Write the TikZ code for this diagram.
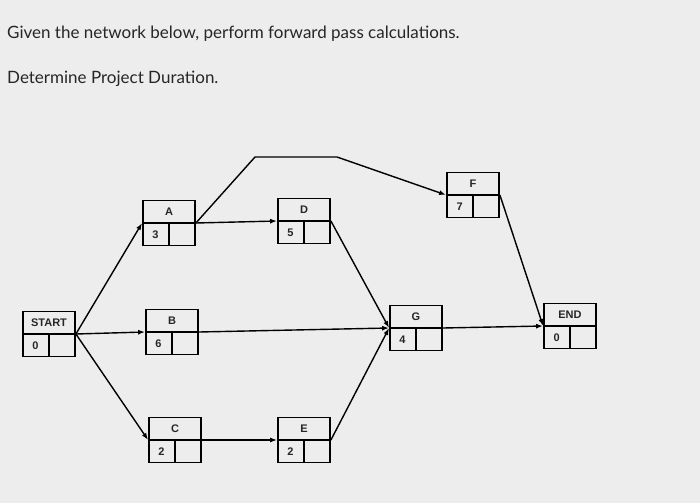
\documentclass[tikz,border=0pt]{standalone}
\usepackage{fontspec}
\setmainfont{Lato}
\newfontfamily\lblfont{Liberation Sans}
\usetikzlibrary{arrows.meta,calc}
\definecolor{bg}{HTML}{EDEDED}
\tikzset{
  act/.style={draw, line width=1.8pt, minimum width=52pt, minimum height=45pt, inner sep=0pt},
  lbl/.style={font=\lblfont\fontsize{11}{11}\selectfont\bfseries, text=black!85},
  conn/.style={line width=1.4pt, -{Latex[length=7pt,width=5pt]}},
  ttl/.style={anchor=base west, font=\fontsize{17}{17}\selectfont, text=black!85, inner sep=0pt},
}
\newcommand{\actbox}[5]{% name, cx, cy, top, bottom-left
  \node[act] (#1) at (#2,#3) {};
  \draw[line width=1.8pt] (#1.west) -- (#1.east);
  \draw[line width=1.8pt] (#1.center) -- (#1.south);
  \node[lbl] at ($(#1.north)!0.5!(#1.center)$) {#4};
  \node[lbl] at ($(#1.south west)!0.5!(#1.center)$) {#5};
}
\begin{document}
\begin{tikzpicture}[x=1pt,y=-1pt]
\fill[bg] (0,0) rectangle (700,503);
\useasboundingbox (0,0) rectangle (700,503);
\node[ttl] (t1) at (7,39) {Given the network below, perform forward pass calculations.};
\node[ttl] (t2) at (7,83) {Determine Project Duration.};
\actbox{S}{49}{334}{START}{0}
\actbox{A}{169}{223}{A}{3}
\actbox{B}{172}{332}{B}{6}
\actbox{C}{175}{440}{C}{2}
\actbox{D}{304}{221}{D}{5}
\actbox{E}{304}{440}{E}{2}
\actbox{G}{416}{328}{G}{4}
\actbox{F}{473}{195}{F}{7}
\actbox{N}{570}{326}{END}{0}
\coordinate (k1) at (255,157);
\coordinate (k2) at (337,157);
\draw[conn] (S.east) -- (A.west);
\draw[conn] (S.east) -- (B.west);
\draw[conn] (S.east) -- (C.west);
\draw[conn] (A.east) -- (D.west);
\draw[conn] (A.east) -- (k1) -- (k2) -- (F.west);
\draw[conn] (D.east) -- (G.west);
\draw[conn] (B.east) -- (G.west);
\draw[conn] (E.east) -- (G.west);
\draw[conn] (C.east) -- (E.west);
\draw[conn] (G.east) -- (N.west);
\draw[conn] (F.east) -- (N.west);
\end{tikzpicture}
\end{document}
